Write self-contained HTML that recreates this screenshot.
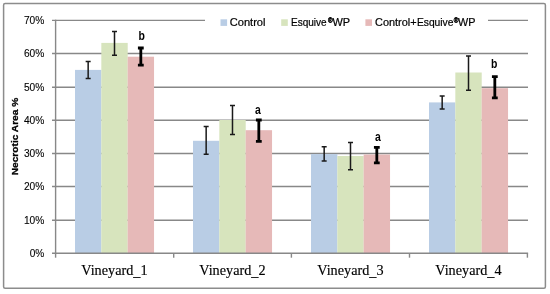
<!DOCTYPE html><html><head><meta charset="utf-8"><title>Necrotic Area chart</title><style>html,body{margin:0;padding:0;background:#fff;width:550px;height:294px;overflow:hidden}svg{display:block}text{font-family:"Liberation Sans",Arial,sans-serif;fill:#000;stroke:#000;stroke-width:0.2px}.serif{font-family:"Liberation Serif","Times New Roman",serif;stroke:#000;stroke-width:0.15px}.b{font-weight:bold;stroke:none}</style></head><body>
<svg width="550" height="294" viewBox="0 0 550 294">
<rect x="0" y="0" width="550" height="294" fill="#fff"/>
<rect x="3.6" y="3.4" width="541.8" height="284.8" rx="1.5" fill="none" stroke="#8c8c8c" stroke-width="1.5"/>
<line x1="52" y1="20.4" x2="528" y2="20.4" stroke="#888888" stroke-width="1.4"/>
<line x1="52" y1="53.5" x2="528" y2="53.5" stroke="#888888" stroke-width="1.4"/>
<line x1="52" y1="87.2" x2="528" y2="87.2" stroke="#888888" stroke-width="1.4"/>
<line x1="52" y1="120.3" x2="528" y2="120.3" stroke="#888888" stroke-width="1.4"/>
<line x1="52" y1="153.5" x2="528" y2="153.5" stroke="#888888" stroke-width="1.4"/>
<line x1="52" y1="186.5" x2="528" y2="186.5" stroke="#888888" stroke-width="1.4"/>
<line x1="52" y1="220.3" x2="528" y2="220.3" stroke="#888888" stroke-width="1.4"/>
<rect x="205" y="12" width="283" height="16" fill="#fff"/>
<rect x="75.00" y="69.9" width="26.38" height="183.40" fill="#B9CDE5"/>
<rect x="101.33" y="42.9" width="26.38" height="210.40" fill="#D7E4BD"/>
<rect x="127.66" y="56.7" width="26.38" height="196.60" fill="#E6B9B8"/>
<rect x="193.00" y="140.8" width="26.38" height="112.50" fill="#B9CDE5"/>
<rect x="219.33" y="120.0" width="26.38" height="133.30" fill="#D7E4BD"/>
<rect x="245.66" y="130.2" width="26.38" height="123.10" fill="#E6B9B8"/>
<rect x="311.00" y="154.1" width="26.38" height="99.20" fill="#B9CDE5"/>
<rect x="337.33" y="156.0" width="26.38" height="97.30" fill="#D7E4BD"/>
<rect x="363.66" y="154.5" width="26.38" height="98.80" fill="#E6B9B8"/>
<rect x="429.00" y="102.4" width="26.38" height="150.90" fill="#B9CDE5"/>
<rect x="455.33" y="72.5" width="26.38" height="180.80" fill="#D7E4BD"/>
<rect x="481.66" y="88.2" width="26.38" height="165.10" fill="#E6B9B8"/>
<line x1="52" y1="253.3" x2="528.1" y2="253.3" stroke="#888888" stroke-width="1.4"/>
<line x1="55.6" y1="19.7" x2="55.6" y2="257.7" stroke="#888888" stroke-width="1.4"/>
<line x1="173.7" y1="253.3" x2="173.7" y2="257.7" stroke="#888888" stroke-width="1.4"/>
<line x1="291.4" y1="253.3" x2="291.4" y2="257.7" stroke="#888888" stroke-width="1.4"/>
<line x1="409.5" y1="253.3" x2="409.5" y2="257.7" stroke="#888888" stroke-width="1.4"/>
<line x1="527.4" y1="253.3" x2="527.4" y2="257.7" stroke="#888888" stroke-width="1.4"/>
<path d="M88.16 61.5V78.4M85.66 61.5H90.66M85.66 78.4H90.66" stroke="#1a1a1a" stroke-width="1.5" fill="none"/>
<path d="M114.50 31.4V55.2M112.00 31.4H117.00M112.00 55.2H117.00" stroke="#1a1a1a" stroke-width="1.5" fill="none"/>
<path d="M140.82 48V65.1M137.92 48H143.72M137.92 65.1H143.72" stroke="#000" stroke-width="2.8" fill="none"/>
<path d="M206.16 126.4V154.3M203.66 126.4H208.66M203.66 154.3H208.66" stroke="#1a1a1a" stroke-width="1.5" fill="none"/>
<path d="M232.49 105.5V134.5M229.99 105.5H234.99M229.99 134.5H234.99" stroke="#1a1a1a" stroke-width="1.5" fill="none"/>
<path d="M258.82 120V141.3M255.92 120H261.72M255.92 141.3H261.72" stroke="#000" stroke-width="2.8" fill="none"/>
<path d="M324.17 146.8V161.1M321.67 146.8H326.67M321.67 161.1H326.67" stroke="#1a1a1a" stroke-width="1.5" fill="none"/>
<path d="M350.50 142.5V169.7M348.00 142.5H353.00M348.00 169.7H353.00" stroke="#1a1a1a" stroke-width="1.5" fill="none"/>
<path d="M376.82 147.4V162.8M373.93 147.4H379.72M373.93 162.8H379.72" stroke="#000" stroke-width="2.8" fill="none"/>
<path d="M442.17 96V108.9M439.67 96H444.67M439.67 108.9H444.67" stroke="#1a1a1a" stroke-width="1.5" fill="none"/>
<path d="M468.50 56V90.3M466.00 56H471.00M466.00 90.3H471.00" stroke="#1a1a1a" stroke-width="1.5" fill="none"/>
<path d="M494.82 76.6V97.9M491.93 76.6H497.72M491.93 97.9H497.72" stroke="#000" stroke-width="2.8" fill="none"/>
<text x="44.3" y="23.6" font-size="10.2" style="stroke-width:0.1px" text-anchor="end" textLength="20.4" lengthAdjust="spacingAndGlyphs">70%</text>
<text x="44.3" y="57.0" font-size="10.2" style="stroke-width:0.1px" text-anchor="end" textLength="20.4" lengthAdjust="spacingAndGlyphs">60%</text>
<text x="44.3" y="90.6" font-size="10.2" style="stroke-width:0.1px" text-anchor="end" textLength="20.4" lengthAdjust="spacingAndGlyphs">50%</text>
<text x="44.3" y="123.5" font-size="10.2" style="stroke-width:0.1px" text-anchor="end" textLength="20.4" lengthAdjust="spacingAndGlyphs">40%</text>
<text x="44.3" y="156.6" font-size="10.2" style="stroke-width:0.1px" text-anchor="end" textLength="20.4" lengthAdjust="spacingAndGlyphs">30%</text>
<text x="44.3" y="189.6" font-size="10.2" style="stroke-width:0.1px" text-anchor="end" textLength="20.4" lengthAdjust="spacingAndGlyphs">20%</text>
<text x="44.3" y="223.5" font-size="10.2" style="stroke-width:0.1px" text-anchor="end" textLength="20.4" lengthAdjust="spacingAndGlyphs">10%</text>
<text x="44.3" y="256.6" font-size="10.2" style="stroke-width:0.1px" text-anchor="end" textLength="14.6" lengthAdjust="spacingAndGlyphs">0%</text>
<text transform="translate(17.9,136.5) rotate(-90)" font-size="9.2" font-weight="bold" style="stroke-width:0.3px" text-anchor="middle" textLength="77.5" lengthAdjust="spacingAndGlyphs">Necrotic Area %</text>
<text class="serif" x="114.4" y="274.7" font-size="14.67" text-anchor="middle" textLength="66.3" lengthAdjust="spacingAndGlyphs">Vineyard<tspan dy="0.9">_</tspan><tspan dy="-0.9">1</tspan></text>
<text class="serif" x="232.4" y="274.7" font-size="14.67" text-anchor="middle" textLength="66.3" lengthAdjust="spacingAndGlyphs">Vineyard<tspan dy="0.9">_</tspan><tspan dy="-0.9">2</tspan></text>
<text class="serif" x="350.4" y="274.7" font-size="14.67" text-anchor="middle" textLength="66.3" lengthAdjust="spacingAndGlyphs">Vineyard<tspan dy="0.9">_</tspan><tspan dy="-0.9">3</tspan></text>
<text class="serif" x="468.4" y="274.7" font-size="14.67" text-anchor="middle" textLength="66.3" lengthAdjust="spacingAndGlyphs">Vineyard<tspan dy="0.9">_</tspan><tspan dy="-0.9">4</tspan></text>
<text x="141.7" y="40.2" font-size="12.2" class="b" text-anchor="middle" textLength="6.4" lengthAdjust="spacingAndGlyphs">b</text>
<text x="257.9" y="113.5" font-size="12.2" class="b" text-anchor="middle" textLength="5.8" lengthAdjust="spacingAndGlyphs">a</text>
<text x="377.9" y="140.8" font-size="12.2" class="b" text-anchor="middle" textLength="5.8" lengthAdjust="spacingAndGlyphs">a</text>
<text x="494.3" y="67.9" font-size="12.2" class="b" text-anchor="middle" textLength="6.4" lengthAdjust="spacingAndGlyphs">b</text>
<rect x="220.5" y="19.3" width="6.6" height="6.6" fill="#B9CDE5"/>
<rect x="281.2" y="19.3" width="6.6" height="6.6" fill="#D7E4BD"/>
<rect x="365.4" y="19.3" width="6.6" height="6.6" fill="#E6B9B8"/>
<text x="229.70" y="25.9" font-size="10.5" textLength="35.80" lengthAdjust="spacingAndGlyphs">Control</text>
<text x="291.00" y="25.9" font-size="10.5" textLength="35.70" lengthAdjust="spacingAndGlyphs">Esquive</text>
<text x="332.50" y="25.9" font-size="10.5" textLength="17.60" lengthAdjust="spacingAndGlyphs">WP</text>
<text x="375.00" y="25.9" font-size="10.5" textLength="41.60" lengthAdjust="spacingAndGlyphs">Control+</text>
<text x="416.90" y="25.9" font-size="10.5" textLength="36.60" lengthAdjust="spacingAndGlyphs">Esquive</text>
<text x="458.00" y="25.9" font-size="10.5" textLength="17.40" lengthAdjust="spacingAndGlyphs">WP</text>
<text x="330.35" y="22.9" font-size="6.3" font-weight="bold" style="stroke-width:0.35px" text-anchor="middle">®</text>
<text x="456.15" y="22.9" font-size="6.3" font-weight="bold" style="stroke-width:0.35px" text-anchor="middle">®</text>
</svg></body></html>
